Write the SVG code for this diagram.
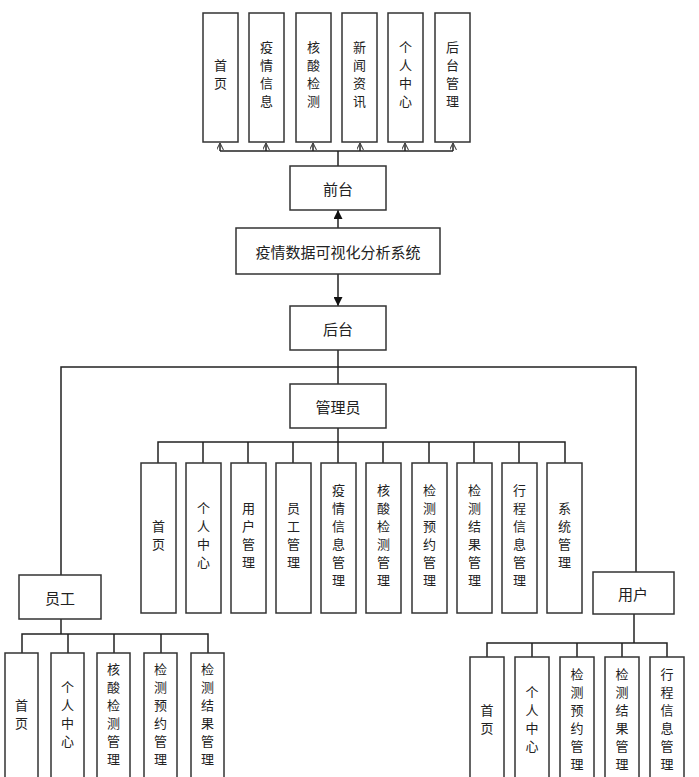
<svg xmlns="http://www.w3.org/2000/svg" width="699" height="777" viewBox="0 0 699 777">
<style>
rect{fill:#fff;stroke:#333;stroke-width:1.5}
text{font-family:"Noto Sans CJK SC",sans-serif;fill:#222}
.h{font-size:15px;text-anchor:middle;dominant-baseline:central}
.v{font-size:13px;writing-mode:vertical-rl;text-anchor:middle;letter-spacing:5px}
.c line,.c path{stroke:#222;stroke-width:1.5;fill:none}
</style>
<defs>
<marker id="a" viewBox="0 0 10 10" refX="10" refY="5" markerWidth="9" markerHeight="9" orient="auto" markerUnits="userSpaceOnUse"><path d="M0,0 L10,5 L0,10 z" fill="#111"/></marker>
<marker id="o" viewBox="0 0 10 10" refX="10" refY="5" markerWidth="7" markerHeight="7" orient="auto" markerUnits="userSpaceOnUse"><path d="M0,0 L10,5 L0,10" fill="none" stroke="#444" stroke-width="1.5"/></marker>
</defs>
<g class="c" id="connectors">
<line x1="338" y1="166" x2="338" y2="151" stroke-width="2.5"/>
<line x1="220" y1="151" x2="453" y2="151"/>
<line x1="220" y1="151" x2="220" y2="143" marker-end="url(#o)"/>
<line x1="266" y1="151" x2="266" y2="143" marker-end="url(#o)"/>
<line x1="313" y1="151" x2="313" y2="143" marker-end="url(#o)"/>
<line x1="360" y1="151" x2="360" y2="143" marker-end="url(#o)"/>
<line x1="405" y1="151" x2="405" y2="143" marker-end="url(#o)"/>
<line x1="453" y1="151" x2="453" y2="143" marker-end="url(#o)"/>
<line x1="338" y1="228" x2="338" y2="210" marker-end="url(#a)"/>
<line x1="338" y1="274" x2="338" y2="306" marker-end="url(#a)"/>
<line x1="338" y1="350" x2="338" y2="384"/>
<path d="M61,575 V367 H636 V572"/>
<line x1="338" y1="428" x2="338" y2="442" stroke-width="2.5"/>
<path d="M158,463 V442 H565 V463 M203,442 V463 M248,442 V463 M293,442 V463 M338,442 V463 M383,442 V463 M429,442 V463 M474,442 V463 M519,442 V463"/>
<line x1="61" y1="619" x2="61" y2="634" stroke-width="2.5"/>
<path d="M22,653 V634 H208 V653 M68,634 V653 M114,634 V653 M161,634 V653"/>
<line x1="634" y1="614" x2="634" y2="643" stroke-width="2.5"/>
<path d="M487,657 V643 H667 V657 M532,643 V657 M577,643 V657 M622,643 V657"/>
</g>
<g id="top-nodes">
<rect x="203" y="13" width="35" height="129"/><text class="v" x="220.5" y="77">首页</text>
<rect x="249" y="13" width="35" height="129"/><text class="v" x="266.5" y="77">疫情信息</text>
<rect x="296" y="13" width="35" height="129"/><text class="v" x="313.5" y="77">核酸检测</text>
<rect x="342" y="13" width="35" height="129"/><text class="v" x="359.5" y="77">新闻资讯</text>
<rect x="388" y="13" width="35" height="129"/><text class="v" x="405.5" y="77">个人中心</text>
<rect x="435" y="13" width="35" height="129"/><text class="v" x="452.5" y="77">后台管理</text>
</g>
<g id="qiantai"><rect x="290" y="166" width="96" height="44"/><text class="h" x="338" y="188">前台</text></g>
<g id="system"><rect x="236" y="228" width="204" height="46"/><text class="h" x="338" y="251">疫情数据可视化分析系统</text></g>
<g id="houtai"><rect x="290" y="306" width="96" height="44"/><text class="h" x="338" y="328">后台</text></g>
<g id="admin"><rect x="290" y="384" width="96" height="44"/><text class="h" x="338" y="406">管理员</text></g>
<g id="admin-nodes">
<rect x="141" y="463" width="35" height="150"/><text class="v" x="158.5" y="538">首页</text>
<rect x="186" y="463" width="35" height="150"/><text class="v" x="203.5" y="538">个人中心</text>
<rect x="231" y="463" width="35" height="150"/><text class="v" x="248.5" y="538">用户管理</text>
<rect x="276" y="463" width="35" height="150"/><text class="v" x="293.5" y="538">员工管理</text>
<rect x="321" y="463" width="35" height="150"/><text class="v" x="338.5" y="538">疫情信息管理</text>
<rect x="366" y="463" width="35" height="150"/><text class="v" x="383.5" y="538">核酸检测管理</text>
<rect x="412" y="463" width="35" height="150"/><text class="v" x="429.5" y="538">检测预约管理</text>
<rect x="457" y="463" width="35" height="150"/><text class="v" x="474.5" y="538">检测结果管理</text>
<rect x="502" y="463" width="35" height="150"/><text class="v" x="519.5" y="538">行程信息管理</text>
<rect x="547" y="463" width="35" height="150"/><text class="v" x="564.5" y="538">系统管理</text>
</g>
<g id="staff"><rect x="19" y="575" width="82" height="44"/><text class="h" x="60" y="597">员工</text></g>
<g id="staff-nodes">
<rect x="5" y="653" width="33" height="130"/><text class="v" x="21.5" y="717">首页</text>
<rect x="51" y="653" width="33" height="130"/><text class="v" x="67.5" y="717">个人中心</text>
<rect x="97" y="653" width="33" height="130"/><text class="v" x="113.5" y="717">核酸检测管理</text>
<rect x="144" y="653" width="33" height="130"/><text class="v" x="160.5" y="717">检测预约管理</text>
<rect x="191" y="653" width="33" height="130"/><text class="v" x="207.5" y="717">检测结果管理</text>
</g>
<g id="user"><rect x="593" y="572" width="81" height="42"/><text class="h" x="633" y="593">用户</text></g>
<g id="user-nodes">
<rect x="470" y="657" width="34" height="130"/><text class="v" x="487" y="722">首页</text>
<rect x="515" y="657" width="34" height="130"/><text class="v" x="532" y="722">个人中心</text>
<rect x="560" y="657" width="34" height="130"/><text class="v" x="577" y="722">检测预约管理</text>
<rect x="605" y="657" width="34" height="130"/><text class="v" x="622" y="722">检测结果管理</text>
<rect x="650" y="657" width="34" height="130"/><text class="v" x="667" y="722">行程信息管理</text>
</g>
</svg>
